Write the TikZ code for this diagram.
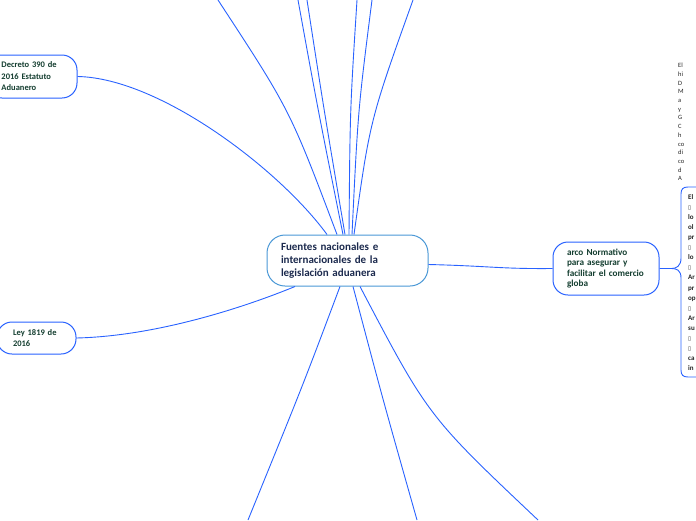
\documentclass[tikz,border=0pt]{standalone}
\usepackage{fontspec}
\setmainfont{Carlito}
\newfontfamily\dejavu{DejaVu Sans}
\usetikzlibrary{calc}
\definecolor{linkblue}{RGB}{41,98,255}
\definecolor{centreblue}{RGB}{74,152,214}
\definecolor{navytext}{RGB}{28,42,78}
\definecolor{greentext}{RGB}{20,62,48}
\definecolor{sidetext}{RGB}{35,35,35}
\newcommand{\tofu}{{\dejavu\fontsize{5.5}{8}\selectfont ▯}}
\tikzset{
  link/.style={draw=linkblue, line width=0.9pt},
  topicbox/.style={draw=linkblue, line width=1pt, rounded corners=15pt, fill=white,
    align=left, font=\bfseries\fontsize{8.5}{11.5}\selectfont, text=greentext, inner ysep=0pt},
  centrebox/.style={draw=centreblue, line width=1pt, rounded corners=18pt, fill=white,
    align=left, font=\bfseries\fontsize{11}{13}\selectfont, text=navytext, inner ysep=0pt},
  fragtext/.style={align=left, inner sep=0pt, anchor=north west, text=sidetext},
}
\begin{document}
\begin{tikzpicture}[x=1pt,y=-1pt]
\useasboundingbox (0,0) rectangle (696,520);

% nodes
\node[centrebox, minimum width=161pt, minimum height=51pt, text width=133pt, inner xsep=14pt]
  (c) at (347.5,260.5) {Fuentes nacionales e\\internacionales de la\\legislación aduanera};
\node[topicbox, minimum width=90pt, minimum height=43pt, text width=61pt, inner xsep=14.5pt]
  (dec) at (32,76.5) {Decreto 390 de\\2016 Estatuto\\Aduanero};
\node[topicbox, minimum width=79pt, minimum height=32pt, text width=47pt, inner xsep=16pt]
  (ley) at (36.5,338) {Ley 1819 de\\2016};
\node[topicbox, minimum width=106pt, minimum height=53pt, text width=78pt, inner xsep=14pt,
  font=\bfseries\fontsize{9.2}{10.4}\selectfont]
  (arco) at (606,268.5) {arco Normativo\\para asegurar y\\facilitar el comercio\\globa};

% free ends of connectors
\coordinate (t1) at (218,0);
\coordinate (t2) at (298,0);
\coordinate (t3) at (307,0);
\coordinate (t4) at (357,0);
\coordinate (t5) at (372,0);
\coordinate (t6) at (413,0);
\coordinate (b1) at (248,520);
\coordinate (b2) at (417,520);
\coordinate (b3) at (538,520);

% connectors
\draw[link] ($(c.north)+(-20.5,0)$) .. controls (280,170) and (160,78) .. (dec.east);
\draw[link] ($(c.north)+(-10.5,0)$) .. controls (290,110) .. (t1);
\draw[link] ($(c.north)+(-4.5,0)$) .. controls (318,110) .. (t2);
\draw[link] ($(c.north)+(-2.5,0)$) .. controls (324,110) .. (t3);
\draw[link] ($(c.north)+(1.5,0)$) .. controls (350,110) .. (t4);
\draw[link] ($(c.north)+(4.5,0)$) .. controls (358,110) .. (t5);
\draw[link] ($(c.north)+(6.5,0)$) .. controls (370,120) .. (t6);
\draw[link] ($(c.south)+(-52.5,0)$) .. controls (250,305) and (160,336) .. (ley.east);
\draw[link] ($(c.south)+(-7.5,0)$) .. controls (303,385) .. (b1);
\draw[link] ($(c.south)+(5.5,0)$) .. controls (383,400) .. (b2);
\draw[link] ($(c.south)+(12.5,0)$) .. controls (428,416) .. (b3);
\draw[link] ($(c.east)+(0,4)$) .. controls (490,266) and (500,269) .. (arco.west);

% bracket on the right of "arco Normativo"
\coordinate (brtop) at (700,187);
\coordinate (brbot) at (700,377);
\draw[link] (arco.east) -- ++(12,0) coordinate (brj)
  .. controls ++(5,0) and ++(0,8) .. (681,258) -- (681,194)
  .. controls (681,189) and (683,187) .. (688,187) -- (brtop);
\draw[link] (brj)
  .. controls ++(5,0) and ++(0,-8) .. (681,278) -- (681,370)
  .. controls (681,375) and (683,377) .. (688,377) -- (brbot);

% clipped texts at the right edge
\node[fragtext, font=\fontsize{6.5}{8.7}\selectfont] (note1) at (678,63)
  {El\\hi\\D\\M\\a\\y\\G\\C\\h\\co\\di\\co\\d\\A};
\node[fragtext, font=\bfseries\fontsize{7}{10.1}\selectfont] (note2) at (688,194)
  {El\\\tofu\\lo\\ol\\pr\\\tofu\\lo\\\tofu\\Ar\\pr\\op\\\tofu\\Ar\\su\\\tofu\\\tofu\\ca\\in};
\end{tikzpicture}
\end{document}
